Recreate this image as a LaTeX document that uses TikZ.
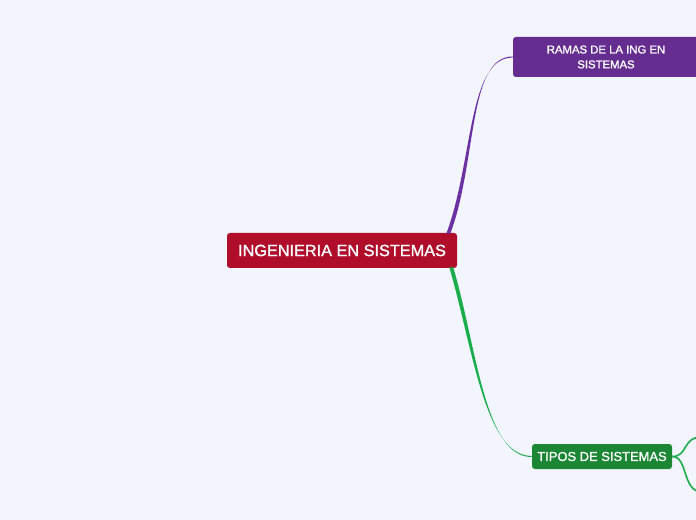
\documentclass[tikz,border=0pt]{standalone}
\usepackage{fontspec}
\setmainfont{Liberation Sans}
\newfontfamily\topicfont{Liberation Sans}[FakeBold=1.3]
\usetikzlibrary{positioning}

\definecolor{bgblue}{HTML}{F2F5FE}
\definecolor{rootred}{HTML}{B00D2B}
\definecolor{ramaspurple}{HTML}{652D90}
\definecolor{ramasline}{HTML}{6B30A2}
\definecolor{tiposgreen}{HTML}{1B8633}
\definecolor{tiposline}{HTML}{19AD4B}

\begin{document}
\begin{tikzpicture}[
    x=0.75pt, y=-0.75pt,
    topic/.style={rectangle, rounded corners=2.2pt, align=center, text=white, inner sep=0pt},
    root/.style={topic, fill=rootred, minimum width=172.5pt, minimum height=26.25pt, font=\topicfont\fontsize{12.2}{14}\selectfont},
    ramas/.style={topic, fill=ramaspurple, minimum width=139.5pt, minimum height=30pt, font=\topicfont\fontsize{8.5}{11.2}\selectfont},
    tipos/.style={topic, fill=tiposgreen, minimum width=105pt, minimum height=18.75pt, font=\topicfont\fontsize{9.7}{12}\selectfont}
    ]

    % Page and background
    \useasboundingbox (0,0) rectangle (696,520);
    \fill[bgblue] (0,0) rectangle (696,520);
    \clip (0,0) rectangle (696,520);

    % Central topic
    \node[root] (main) at (342,250.5) {INGENIERIA EN SISTEMAS};

    % Main branches
    \node[ramas] (ramas) at (606,57) {RAMAS DE LA ING EN\\SISTEMAS};
    \node[tipos] (tipos) at (602,456.5) {TIPOS DE SISTEMAS};

    % Free ends of the sub-branches (children off the page)
    \coordinate (tipos1) at (702,437);
    \coordinate (tipos2) at (702,492);

    % Tapered connectors from the central topic
    \fill[ramasline] ([shift={(-11,1)}]main.north east) .. controls +(27,-72) and +(-45,0) .. ([yshift=-0.4pt]ramas.west)
        -- ([yshift=0.4pt]ramas.west) .. controls +(-45,0) and +(27,-72) .. ([shift={(-7,1)}]main.north east) -- cycle;
    \fill[tiposline] ([shift={(-8,-1)}]main.south east) .. controls +(24,82) and +(-47,0) .. ([yshift=0.4pt]tipos.west)
        -- ([yshift=-0.4pt]tipos.west) .. controls +(-47,0) and +(24,82) .. ([shift={(-4,-1)}]main.south east) -- cycle;

    % Sub-branches of TIPOS DE SISTEMAS
    \draw[tiposline, line width=1.2pt] (tipos.east) .. controls +(16,0) and +(-20,0) .. (tipos1);
    \draw[tiposline, line width=1.2pt] (tipos.east) .. controls +(16,0) and +(-20,0) .. (tipos2);

  \end{tikzpicture}
\end{document}
